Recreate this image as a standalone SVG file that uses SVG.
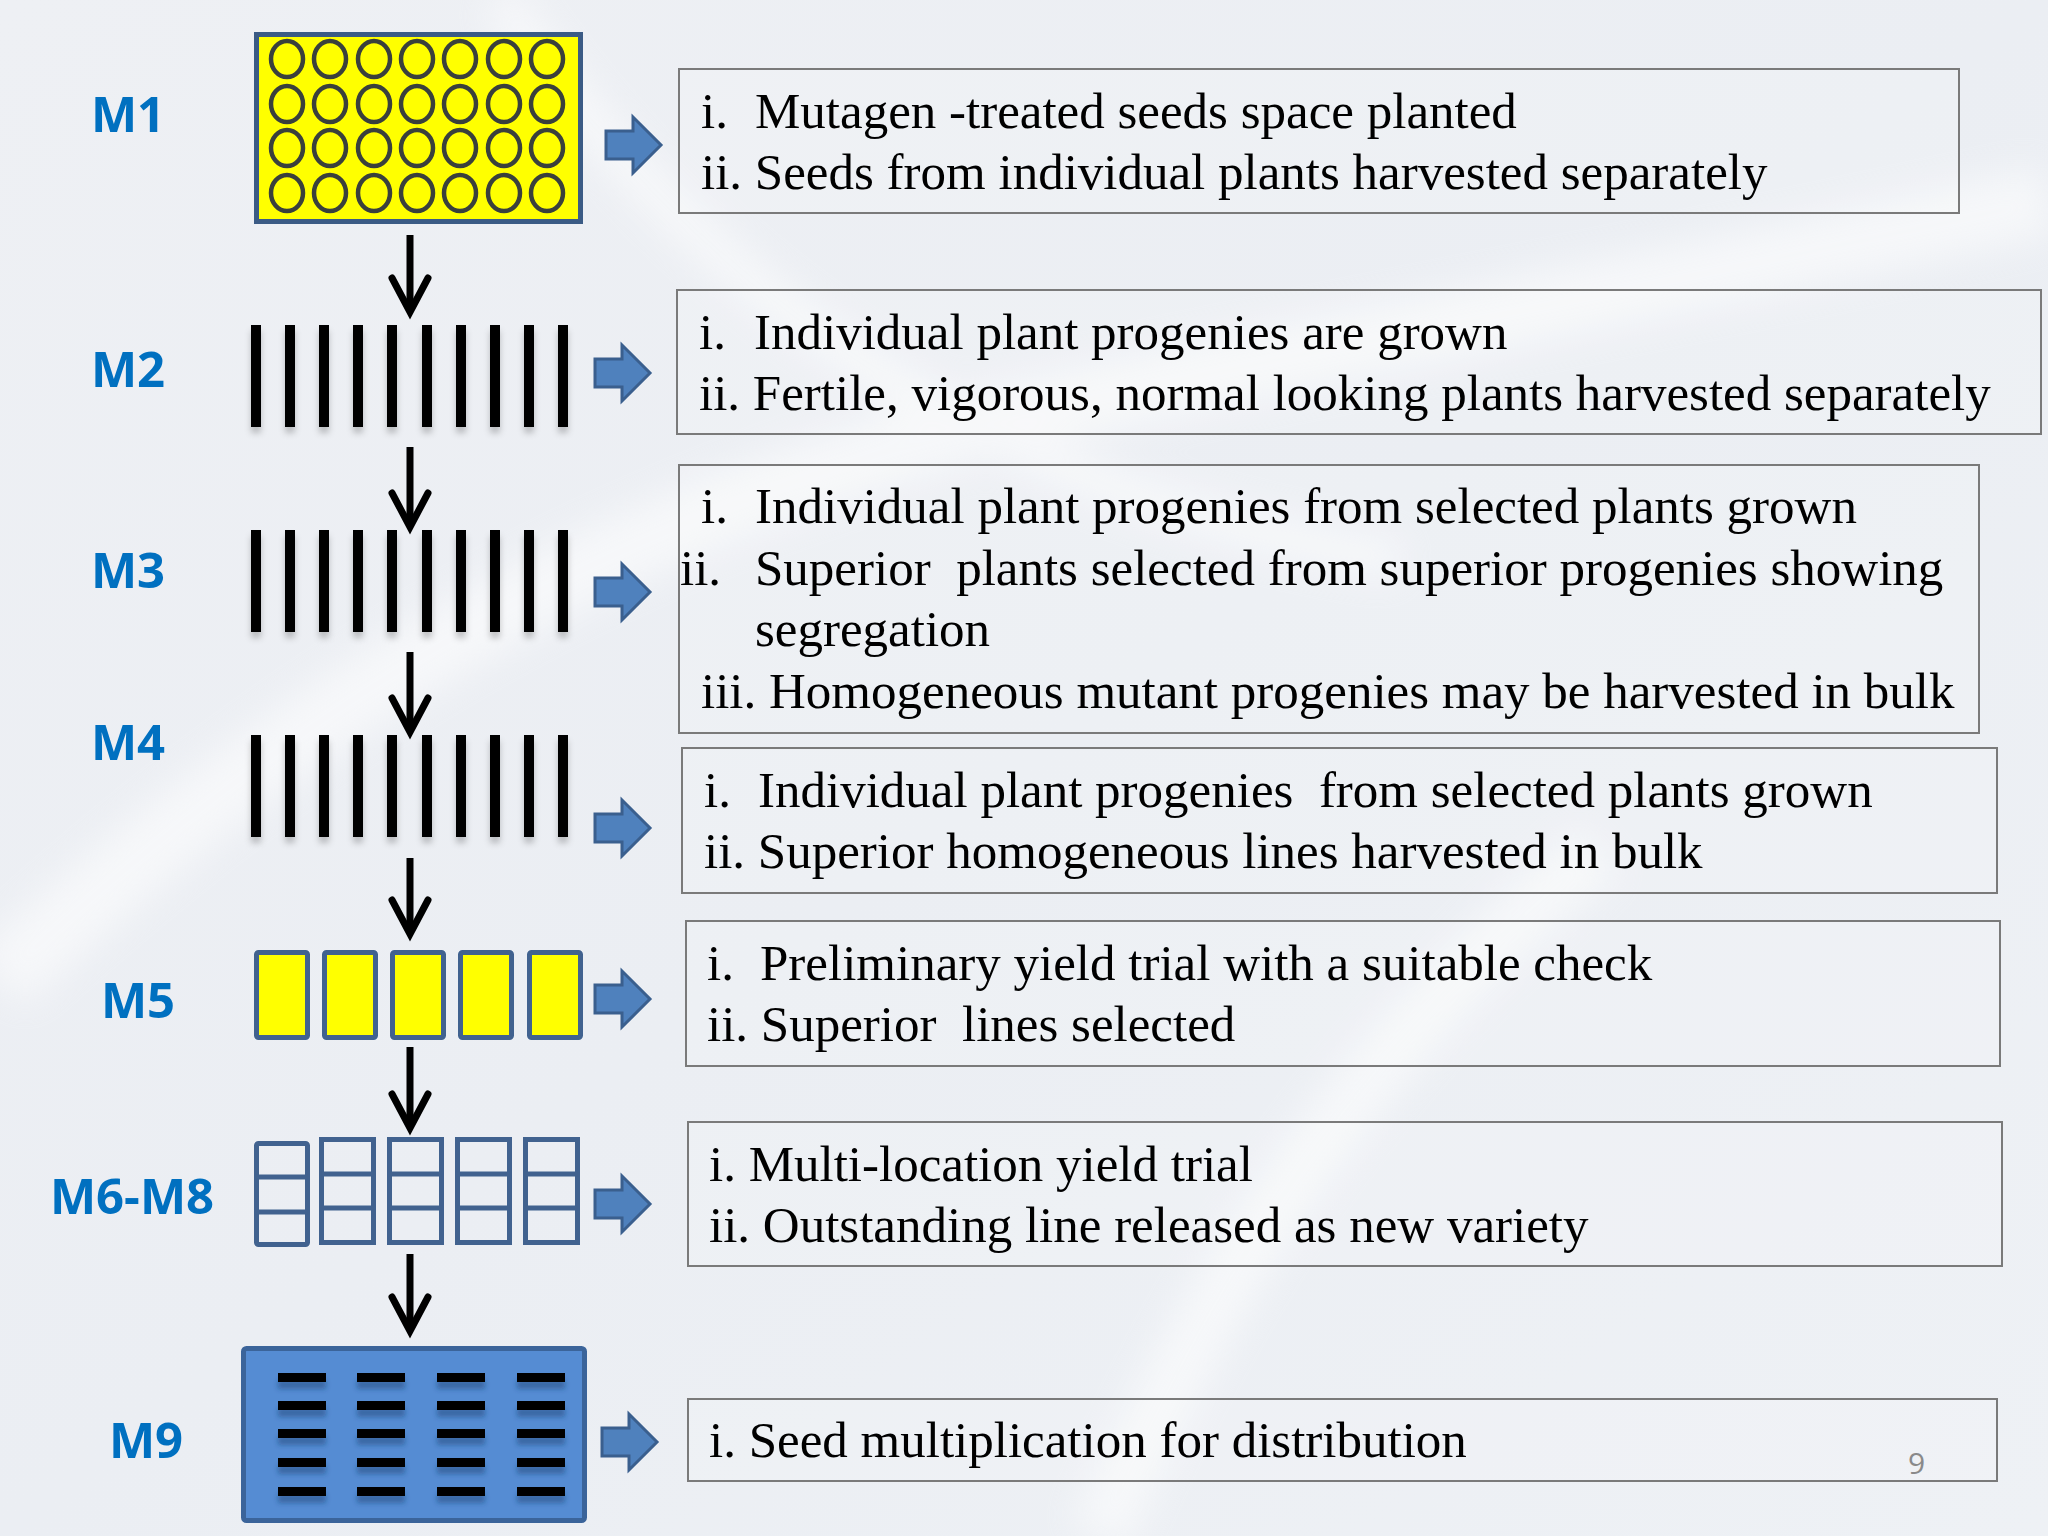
<svg xmlns="http://www.w3.org/2000/svg" width="2048" height="1536" viewBox="0 0 2048 1536">
<defs>
<linearGradient id="bg" x1="0" y1="0" x2="1" y2="1">
<stop offset="0" stop-color="#EEF0F4"/>
<stop offset="0.5" stop-color="#EBEEF3"/>
<stop offset="1" stop-color="#EEF1F5"/>
</linearGradient>
<filter id="sh" x="-50%" y="-20%" width="200%" height="160%">
<feDropShadow dx="0" dy="6" stdDeviation="3" flood-color="#000" flood-opacity="0.22"/>
</filter>
<filter id="sh2" x="-20%" y="-50%" width="140%" height="300%">
<feDropShadow dx="0" dy="7" stdDeviation="2.5" flood-color="#1A3A6A" flood-opacity="0.45"/>
</filter>
<filter id="blur" x="-10%" y="-10%" width="120%" height="120%">
<feGaussianBlur stdDeviation="18"/>
</filter>
</defs>
<style>
.lbl{font-family:"Open Sans","Liberation Sans",sans-serif;font-weight:700;font-size:49px;fill:#0070C0;text-anchor:middle}
.tx{font-family:"Liberation Serif","Times New Roman",serif;font-size:51px;fill:#000}
.box{fill:#FFFFFF;fill-opacity:0.12;stroke:#7A7A7A;stroke-width:2}
.bar{fill:#000}
.blk{fill:#4F81BD;stroke:#3A5F8E;stroke-width:3;stroke-linejoin:miter}
.down{fill:none;stroke:#000;stroke-width:7;stroke-linecap:butt}
.head{fill:none;stroke:#000;stroke-width:7;stroke-linejoin:miter;stroke-linecap:round}
.yel{fill:#FFFF00;stroke:#41628F;stroke-width:5}
.cell{fill:none;stroke:#41628F;stroke-width:5}
.seed{fill:none;stroke:#3A403C;stroke-width:4.5}
.pg{font-family:"Open Sans","Liberation Sans",sans-serif;font-size:30px;fill:#8A8A8A}
</style>
<rect x="0" y="0" width="2048" height="1536" fill="url(#bg)"/>
<g opacity="0.55" filter="url(#blur)">
<path d="M0,980 C300,700 600,520 1000,420 C1300,350 1600,300 2048,200" fill="none" stroke="#FFFFFF" stroke-width="70"/>
<path d="M1100,1536 C1200,1300 1350,1050 1600,850" fill="none" stroke="#FFFFFF" stroke-width="60"/>
<path d="M500,0 C700,300 1000,500 1400,560" fill="none" stroke="#FFFFFF" stroke-width="40"/>
</g>

<g id="labels">
<text class="lbl" x="128" y="132">M1</text>
<text class="lbl" x="128" y="387">M2</text>
<text class="lbl" x="128" y="588">M3</text>
<text class="lbl" x="128" y="760">M4</text>
<text class="lbl" x="138" y="1018">M5</text>
<text class="lbl" x="132" y="1214">M6-M8</text>
<text class="lbl" x="146" y="1458">M9</text>
</g>

<g id="node-m1">
<rect x="256.5" y="34.5" width="324" height="187" fill="#FFFF00" stroke="#3B5B85" stroke-width="5"/>
<g class="seed">
<ellipse cx="287" cy="59" rx="16" ry="18"/><ellipse cx="330" cy="59" rx="16" ry="18"/><ellipse cx="374" cy="59" rx="16" ry="18"/><ellipse cx="417" cy="59" rx="16" ry="18"/><ellipse cx="460" cy="59" rx="16" ry="18"/><ellipse cx="504" cy="59" rx="16" ry="18"/><ellipse cx="547" cy="59" rx="16" ry="18"/>
<ellipse cx="287" cy="104" rx="16" ry="18"/><ellipse cx="330" cy="104" rx="16" ry="18"/><ellipse cx="374" cy="104" rx="16" ry="18"/><ellipse cx="417" cy="104" rx="16" ry="18"/><ellipse cx="460" cy="104" rx="16" ry="18"/><ellipse cx="504" cy="104" rx="16" ry="18"/><ellipse cx="547" cy="104" rx="16" ry="18"/>
<ellipse cx="287" cy="148" rx="16" ry="18"/><ellipse cx="330" cy="148" rx="16" ry="18"/><ellipse cx="374" cy="148" rx="16" ry="18"/><ellipse cx="417" cy="148" rx="16" ry="18"/><ellipse cx="460" cy="148" rx="16" ry="18"/><ellipse cx="504" cy="148" rx="16" ry="18"/><ellipse cx="547" cy="148" rx="16" ry="18"/>
<ellipse cx="287" cy="193" rx="16" ry="18"/><ellipse cx="330" cy="193" rx="16" ry="18"/><ellipse cx="374" cy="193" rx="16" ry="18"/><ellipse cx="417" cy="193" rx="16" ry="18"/><ellipse cx="460" cy="193" rx="16" ry="18"/><ellipse cx="504" cy="193" rx="16" ry="18"/><ellipse cx="547" cy="193" rx="16" ry="18"/>
</g>
</g>

<g id="node-m2" class="bar" filter="url(#sh)">
<rect x="251" y="325" width="10" height="102"/><rect x="285" y="325" width="10" height="102"/><rect x="319" y="325" width="10" height="102"/><rect x="353" y="325" width="10" height="102"/><rect x="387" y="325" width="10" height="102"/><rect x="422" y="325" width="10" height="102"/><rect x="456" y="325" width="10" height="102"/><rect x="490" y="325" width="10" height="102"/><rect x="524" y="325" width="10" height="102"/><rect x="558" y="325" width="10" height="102"/>
</g>
<g id="node-m3" class="bar" filter="url(#sh)">
<rect x="251" y="530" width="10" height="102"/><rect x="285" y="530" width="10" height="102"/><rect x="319" y="530" width="10" height="102"/><rect x="353" y="530" width="10" height="102"/><rect x="387" y="530" width="10" height="102"/><rect x="422" y="530" width="10" height="102"/><rect x="456" y="530" width="10" height="102"/><rect x="490" y="530" width="10" height="102"/><rect x="524" y="530" width="10" height="102"/><rect x="558" y="530" width="10" height="102"/>
</g>
<g id="node-m4" class="bar" filter="url(#sh)">
<rect x="251" y="735" width="10" height="102"/><rect x="285" y="735" width="10" height="102"/><rect x="319" y="735" width="10" height="102"/><rect x="353" y="735" width="10" height="102"/><rect x="387" y="735" width="10" height="102"/><rect x="422" y="735" width="10" height="102"/><rect x="456" y="735" width="10" height="102"/><rect x="490" y="735" width="10" height="102"/><rect x="524" y="735" width="10" height="102"/><rect x="558" y="735" width="10" height="102"/>
</g>

<g id="node-m5">
<rect class="yel" x="256.5" y="952.5" width="51" height="85" rx="2"/>
<rect class="yel" x="324.5" y="952.5" width="51" height="85" rx="2"/>
<rect class="yel" x="392.5" y="952.5" width="51" height="85" rx="2"/>
<rect class="yel" x="460.5" y="952.5" width="51" height="85" rx="2"/>
<rect class="yel" x="529.5" y="952.5" width="51" height="85" rx="2"/>
</g>

<g id="node-m6-m8" class="cell">
<rect x="256.5" y="1143.5" width="51" height="101" rx="2"/>
<line x1="256.5" y1="1177" x2="307.5" y2="1177"/><line x1="256.5" y1="1212" x2="307.5" y2="1212"/>
<rect x="321.5" y="1139.5" width="52" height="103"/>
<line x1="321.5" y1="1174" x2="373.5" y2="1174"/><line x1="321.5" y1="1208" x2="373.5" y2="1208"/>
<rect x="389.5" y="1139.5" width="52" height="103"/>
<line x1="389.5" y1="1174" x2="441.5" y2="1174"/><line x1="389.5" y1="1208" x2="441.5" y2="1208"/>
<rect x="457.5" y="1139.5" width="52" height="103"/>
<line x1="457.5" y1="1174" x2="509.5" y2="1174"/><line x1="457.5" y1="1208" x2="509.5" y2="1208"/>
<rect x="525.5" y="1139.5" width="52" height="103"/>
<line x1="525.5" y1="1174" x2="577.5" y2="1174"/><line x1="525.5" y1="1208" x2="577.5" y2="1208"/>
</g>

<g id="node-m9">
<rect x="243.5" y="1348.5" width="341" height="172" rx="3" fill="#558CD3" stroke="#3B649A" stroke-width="5"/>
<g fill="#000" filter="url(#sh2)">
<rect x="278" y="1373" width="48" height="9"/><rect x="357" y="1373" width="48" height="9"/><rect x="437" y="1373" width="48" height="9"/><rect x="517" y="1373" width="48" height="9"/>
<rect x="278" y="1401" width="48" height="9"/><rect x="357" y="1401" width="48" height="9"/><rect x="437" y="1401" width="48" height="9"/><rect x="517" y="1401" width="48" height="9"/>
<rect x="278" y="1429" width="48" height="9"/><rect x="357" y="1429" width="48" height="9"/><rect x="437" y="1429" width="48" height="9"/><rect x="517" y="1429" width="48" height="9"/>
<rect x="278" y="1458" width="48" height="9"/><rect x="357" y="1458" width="48" height="9"/><rect x="437" y="1458" width="48" height="9"/><rect x="517" y="1458" width="48" height="9"/>
<rect x="278" y="1487" width="48" height="9"/><rect x="357" y="1487" width="48" height="9"/><rect x="437" y="1487" width="48" height="9"/><rect x="517" y="1487" width="48" height="9"/>
</g>
</g>

<g id="connectors">
<path class="down" d="M410,235 V309"/><path class="head" d="M392,278 L410,312 L428,278"/>
<path class="down" d="M410,447 V524"/><path class="head" d="M392,493 L410,527 L428,493"/>
<path class="down" d="M410,652 V729"/><path class="head" d="M392,698 L410,732 L428,698"/>
<path class="down" d="M410,858 V931"/><path class="head" d="M392,900 L410,934 L428,900"/>
<path class="down" d="M410,1047 V1125"/><path class="head" d="M392,1094 L410,1128 L428,1094"/>
<path class="down" d="M410,1254 V1328"/><path class="head" d="M392,1297 L410,1331 L428,1297"/>
<path class="blk" d="M606,131 H633 V117 L661,145 L633,173 V159 H606 Z"/>
<path class="blk" d="M595,359 H622 V345 L650,373 L622,401 V387 H595 Z"/>
<path class="blk" d="M595,578 H622 V564 L650,592 L622,620 V606 H595 Z"/>
<path class="blk" d="M595,814 H622 V800 L650,828 L622,856 V842 H595 Z"/>
<path class="blk" d="M595,985 H622 V971 L650,999 L622,1027 V1013 H595 Z"/>
<path class="blk" d="M595,1190 H622 V1176 L650,1204 L622,1232 V1218 H595 Z"/>
<path class="blk" d="M602,1428 H629 V1414 L657,1442 L629,1470 V1456 H602 Z"/>
</g>

<g id="text-m1">
<rect class="box" x="679" y="69" width="1280" height="144"/>
<text class="tx" x="701" y="128">i.</text><text class="tx" x="755" y="128">Mutagen -treated seeds space planted</text>
<text class="tx" x="701" y="189">ii. Seeds from individual plants harvested separately</text>
</g>
<g id="text-m2">
<rect class="box" x="677" y="290" width="1364" height="144"/>
<text class="tx" x="699" y="349">i.</text><text class="tx" x="754" y="349">Individual plant progenies are grown</text>
<text class="tx" x="699" y="410">ii. Fertile, vigorous, normal looking plants harvested separately</text>
</g>
<g id="text-m3">
<rect class="box" x="679" y="465" width="1300" height="268"/>
<text class="tx" x="701" y="523">i.</text><text class="tx" x="755" y="523">Individual plant progenies from selected plants grown</text>
<text class="tx" x="680" y="585">ii.</text><text class="tx" x="755" y="585" xml:space="preserve">Superior  plants selected from superior progenies showing</text>
<text class="tx" x="755" y="646">segregation</text>
<text class="tx" x="701" y="708">iii. Homogeneous mutant progenies may be harvested in bulk</text>
</g>
<g id="text-m4">
<rect class="box" x="682" y="748" width="1315" height="145"/>
<text class="tx" x="704" y="807">i.</text><text class="tx" x="758" y="807" xml:space="preserve">Individual plant progenies  from selected plants grown</text>
<text class="tx" x="704" y="868">ii. Superior homogeneous lines harvested in bulk</text>
</g>
<g id="text-m5">
<rect class="box" x="686" y="921" width="1314" height="145"/>
<text class="tx" x="707" y="980">i.</text><text class="tx" x="760" y="980">Preliminary yield trial with a suitable check</text>
<text class="tx" x="707" y="1041" xml:space="preserve">ii. Superior  lines selected</text>
</g>
<g id="text-m6-m8">
<rect class="box" x="688" y="1122" width="1314" height="144"/>
<text class="tx" x="709" y="1181">i. Multi-location yield trial</text>
<text class="tx" x="709" y="1242">ii. Outstanding line released as new variety</text>
</g>
<g id="text-m9">
<rect class="box" x="688" y="1399" width="1309" height="82"/>
<text class="tx" x="709" y="1457">i. Seed multiplication for distribution</text>
</g>
<text class="pg" x="1908" y="1474">9</text>
</svg>
